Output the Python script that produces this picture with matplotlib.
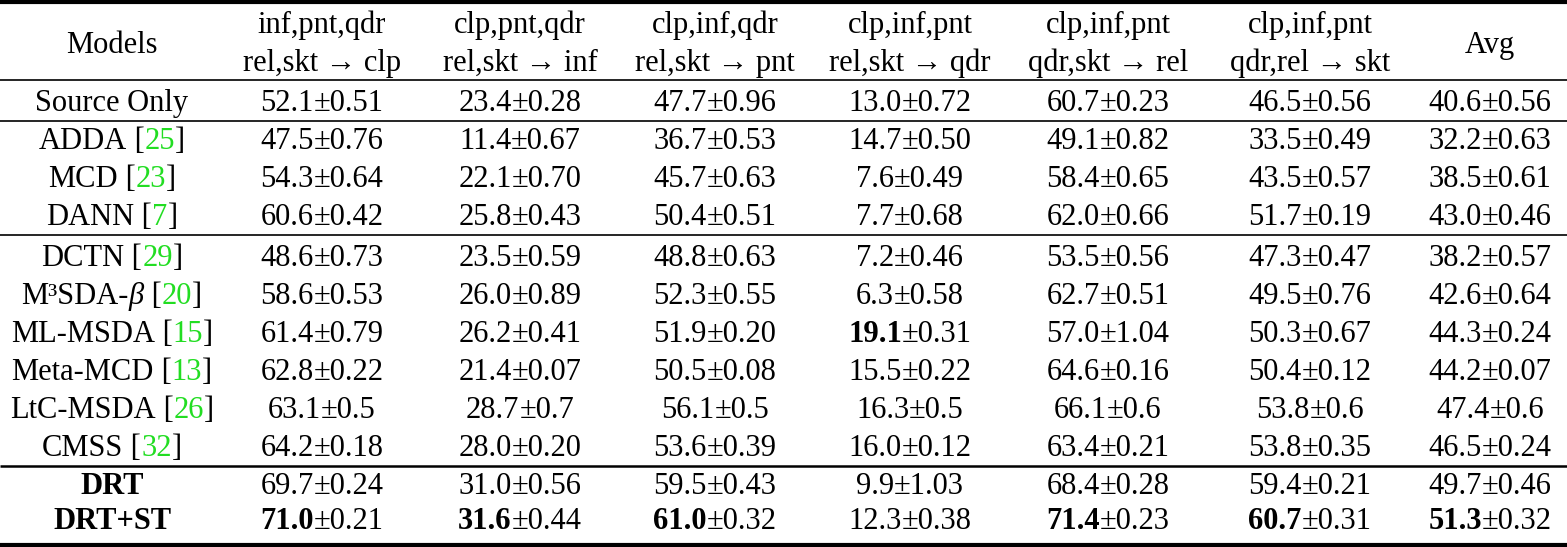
import matplotlib
matplotlib.use("Agg")
import matplotlib.pyplot as plt

plt.rcParams['font.family'] = ['Liberation Serif', 'DejaVu Serif']

headers_top = ["inf,pnt,qdr", "clp,pnt,qdr", "clp,inf,qdr", "clp,inf,pnt", "clp,inf,pnt", "clp,inf,pnt"]
headers_bot = ["rel,skt", "rel,skt", "rel,skt", "rel,skt", "qdr,skt", "qdr,rel"]
targets = ["clp", "inf", "pnt", "qdr", "rel", "skt"]
models = ["Source Only", "ADDA", "MCD", "DANN", "DCTN", "M³SDA-", "ML-MSDA", "Meta-MCD",
          "LtC-MSDA", "CMSS", "DRT", "DRT+ST"]
model_italic_suffix = ["", "", "", "", "", "β", "", "", "", "", "", ""]
cites = ["", "25", "23", "7", "29", "20", "15", "13", "26", "32", "", ""]
means = [
    ["52.1", "23.4", "47.7", "13.0", "60.7", "46.5", "40.6"],
    ["47.5", "11.4", "36.7", "14.7", "49.1", "33.5", "32.2"],
    ["54.3", "22.1", "45.7", "7.6", "58.4", "43.5", "38.5"],
    ["60.6", "25.8", "50.4", "7.7", "62.0", "51.7", "43.0"],
    ["48.6", "23.5", "48.8", "7.2", "53.5", "47.3", "38.2"],
    ["58.6", "26.0", "52.3", "6.3", "62.7", "49.5", "42.6"],
    ["61.4", "26.2", "51.9", "19.1", "57.0", "50.3", "44.3"],
    ["62.8", "21.4", "50.5", "15.5", "64.6", "50.4", "44.2"],
    ["63.1", "28.7", "56.1", "16.3", "66.1", "53.8", "47.4"],
    ["64.2", "28.0", "53.6", "16.0", "63.4", "53.8", "46.5"],
    ["69.7", "31.0", "59.5", "9.9", "68.4", "59.4", "49.7"],
    ["71.0", "31.6", "61.0", "12.3", "71.4", "60.7", "51.3"],
]
stds = [
    ["0.51", "0.28", "0.96", "0.72", "0.23", "0.56", "0.56"],
    ["0.76", "0.67", "0.53", "0.50", "0.82", "0.49", "0.63"],
    ["0.64", "0.70", "0.63", "0.49", "0.65", "0.57", "0.61"],
    ["0.42", "0.43", "0.51", "0.68", "0.66", "0.19", "0.46"],
    ["0.73", "0.59", "0.63", "0.46", "0.56", "0.47", "0.57"],
    ["0.53", "0.89", "0.55", "0.58", "0.51", "0.76", "0.64"],
    ["0.79", "0.41", "0.20", "0.31", "1.04", "0.67", "0.24"],
    ["0.22", "0.07", "0.08", "0.22", "0.16", "0.12", "0.07"],
    ["0.5", "0.7", "0.5", "0.5", "0.6", "0.6", "0.6"],
    ["0.18", "0.20", "0.39", "0.12", "0.21", "0.35", "0.24"],
    ["0.24", "0.56", "0.43", "1.03", "0.28", "0.21", "0.46"],
    ["0.21", "0.44", "0.32", "0.38", "0.23", "0.31", "0.32"],
]
bold = {(6, 3), (11, 0), (11, 1), (11, 2), (11, 4), (11, 5), (11, 6)}
bold_models = {10, 11}

W, H = 1567, 547
fig = plt.figure(figsize=(W / 100, H / 100), dpi=100)
ax = fig.add_axes([0, 0, 1, 1])
ax.set_xlim(0, W)
ax.set_ylim(H, 0)
ax.axis('off')
r = fig.canvas.get_renderer()
FS = 22
GREEN = '#22dd22'

def rich(x, y, pieces):
    ts = []
    for p in pieces:
        s, c, w = p[:3]
        st = p[3] if len(p) > 3 else 'normal'
        ts.append(ax.text(0, y, s, color=c, fontweight=w, fontstyle=st, fontsize=FS,
                          ha='left', va='center_baseline'))
    widths = [t.get_window_extent(r).width for t in ts]
    cur = x - sum(widths) / 2
    for t, w in zip(ts, widths):
        t.set_x(cur)
        cur += w

col_x = [322, 520, 715, 910, 1108, 1310, 1490]
model_x = 112
row_y = [100, 138, 176, 214, 255, 293, 331, 369, 407, 445, 483, 518]

rich(model_x, 42, [("Models", 'k', 'normal')])
for j in range(6):
    rich(col_x[j], 22, [(headers_top[j], 'k', 'normal')])
    rich(col_x[j], 60, [(headers_bot[j] + " \u2192 " + targets[j], 'k', 'normal')])
rich(col_x[6], 42, [("Avg", 'k', 'normal')])

for i in range(len(models)):
    y = row_y[i]
    pcs = [(models[i], 'k', 'bold' if i in bold_models else 'normal')]
    if model_italic_suffix[i]:
        pcs.append((model_italic_suffix[i], 'k', 'normal', 'italic'))
    if cites[i]:
        pcs += [(" [", 'k', 'normal'), (cites[i], GREEN, 'normal'), ("]", 'k', 'normal')]
    rich(model_x, y, pcs)
    for j in range(7):
        rich(col_x[j], y, [(means[i][j], 'k', 'bold' if (i, j) in bold else 'normal'),
                           ("\u00b1" + stds[i][j], 'k', 'normal')])

for yy, lw in [(2, 3), (80, 1.2), (121, 1.2), (235, 1.2), (466, 1.8), (545, 3)]:
    ax.plot([0, W], [yy, yy], color='k', lw=lw, solid_capstyle='butt')

fig.savefig("out.png", dpi=100)
